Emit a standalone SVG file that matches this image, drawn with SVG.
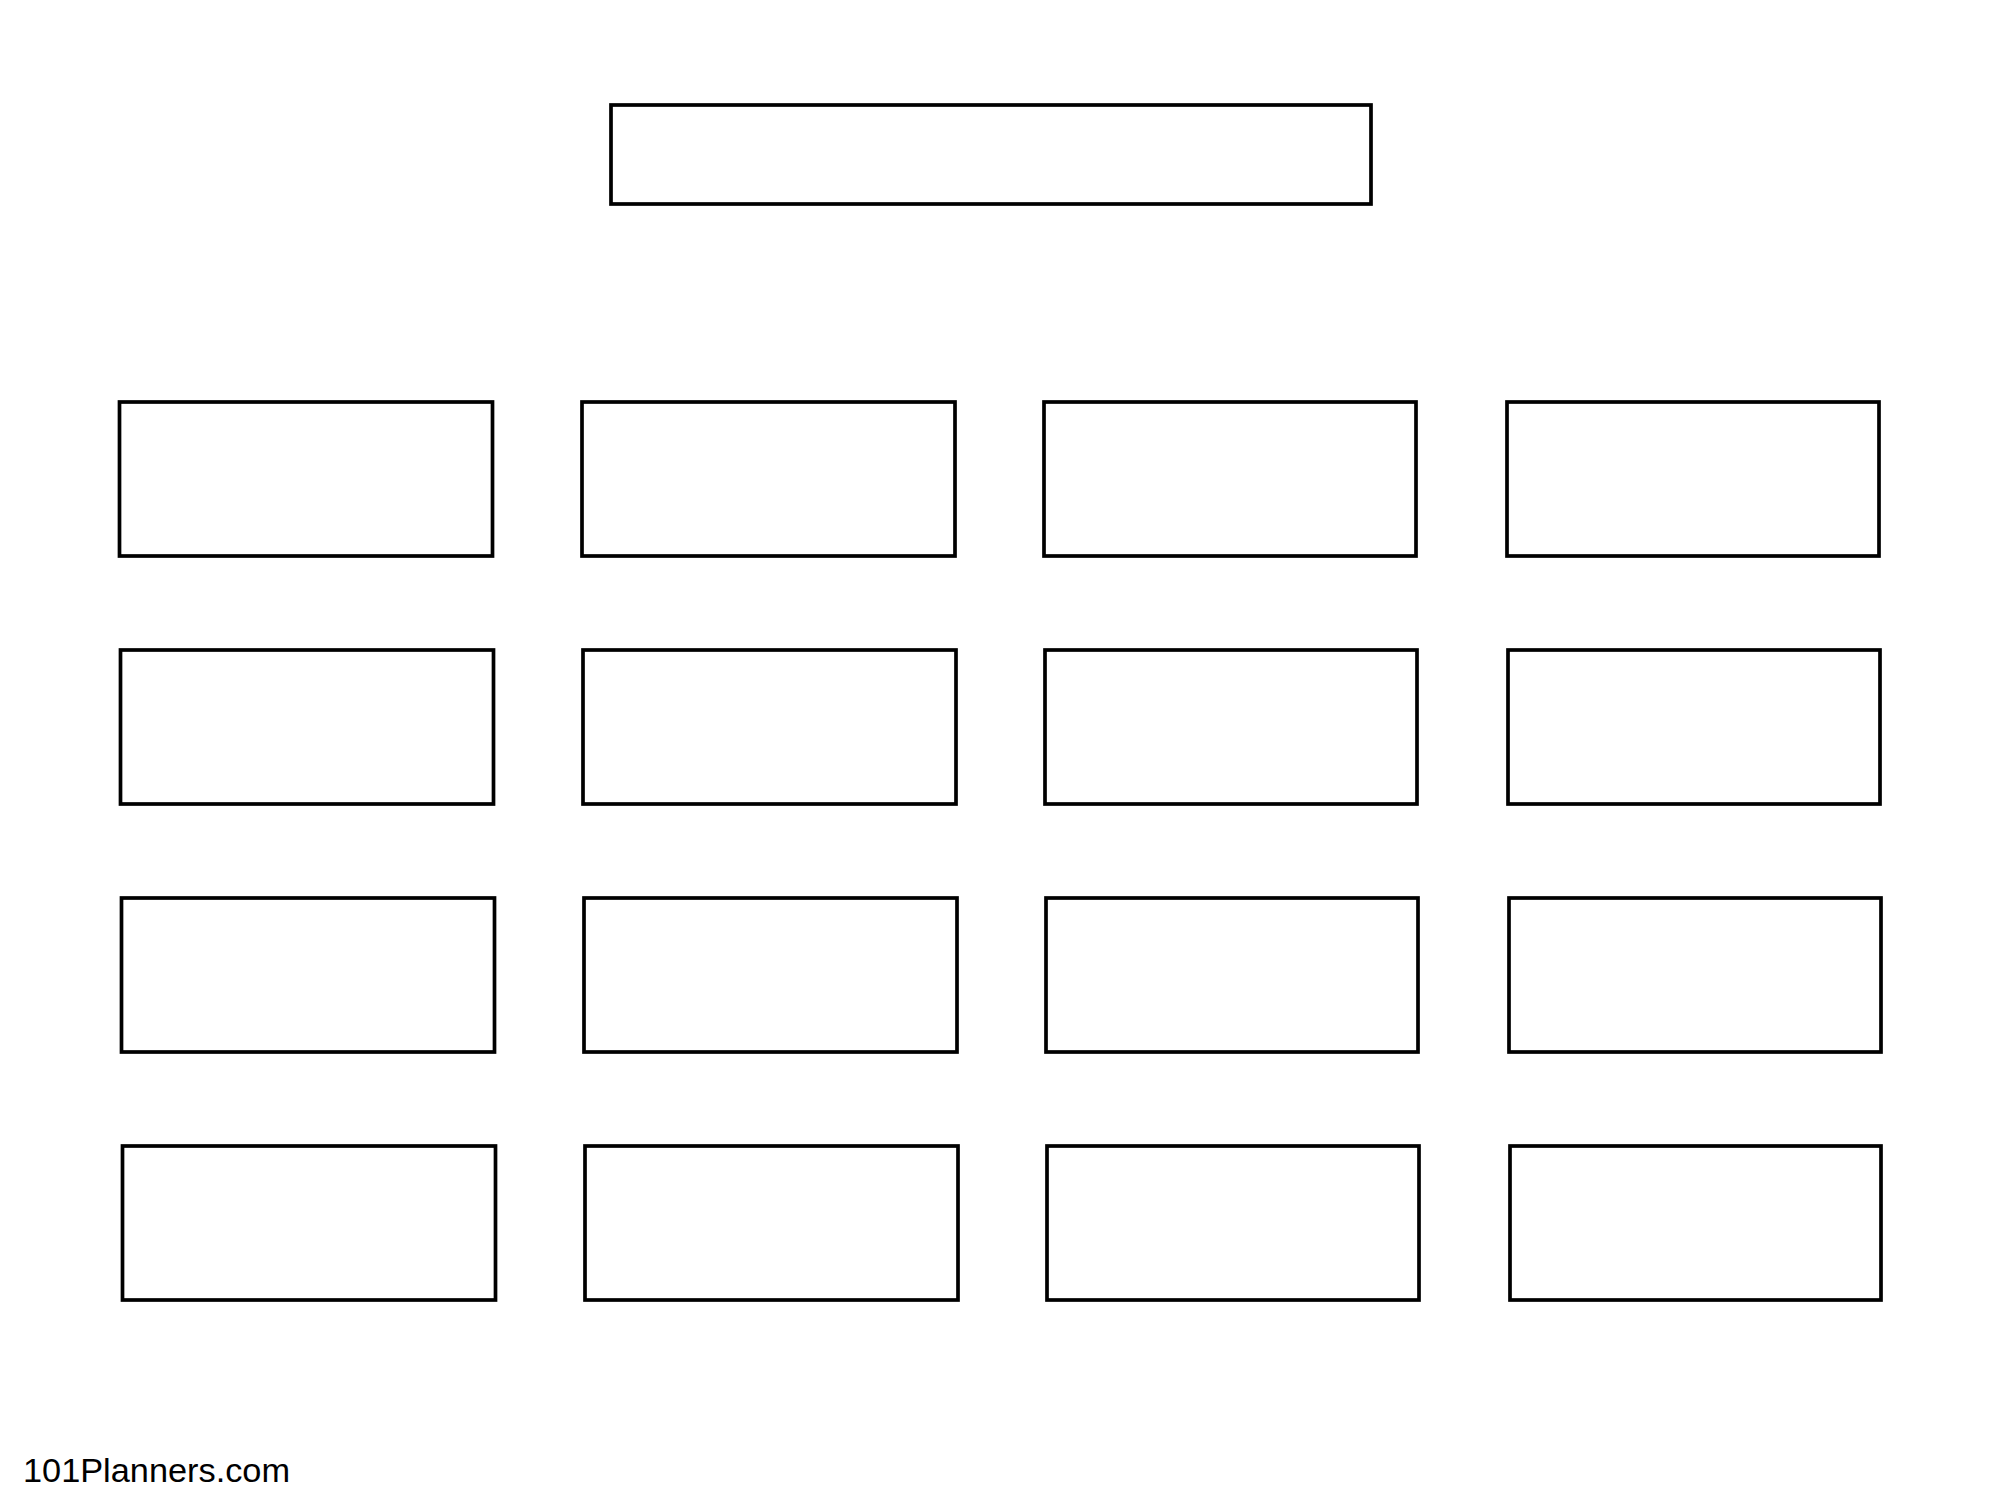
<svg xmlns="http://www.w3.org/2000/svg" width="2000" height="1500" viewBox="0 0 2000 1500">
<style>
.box{fill:#ffffff;stroke:#000000;stroke-width:3.7}
.foot{font-family:"Liberation Sans","DejaVu Sans",sans-serif;font-size:33px;fill:#000000}
</style>
<rect x="0" y="0" width="2000" height="1500" fill="#ffffff"/>
<g id="connectors"></g>
<g id="top"><rect class="box" x="611" y="105" width="760" height="99"/></g>
<g id="r1c1"><rect class="box" x="119.5" y="402" width="373" height="154"/></g>
<g id="r1c2"><rect class="box" x="582" y="402" width="373" height="154"/></g>
<g id="r1c3"><rect class="box" x="1044" y="402" width="372" height="154"/></g>
<g id="r1c4"><rect class="box" x="1507" y="402" width="372" height="154"/></g>
<g id="r2c1"><rect class="box" x="120.5" y="650" width="373" height="154"/></g>
<g id="r2c2"><rect class="box" x="583" y="650" width="373" height="154"/></g>
<g id="r2c3"><rect class="box" x="1045" y="650" width="372" height="154"/></g>
<g id="r2c4"><rect class="box" x="1508" y="650" width="372" height="154"/></g>
<g id="r3c1"><rect class="box" x="121.5" y="898" width="373" height="154"/></g>
<g id="r3c2"><rect class="box" x="584" y="898" width="373" height="154"/></g>
<g id="r3c3"><rect class="box" x="1046" y="898" width="372" height="154"/></g>
<g id="r3c4"><rect class="box" x="1509" y="898" width="372" height="154"/></g>
<g id="r4c1"><rect class="box" x="122.5" y="1146" width="373" height="154"/></g>
<g id="r4c2"><rect class="box" x="585" y="1146" width="373" height="154"/></g>
<g id="r4c3"><rect class="box" x="1047" y="1146" width="372" height="154"/></g>
<g id="r4c4"><rect class="box" x="1510" y="1146" width="371" height="154"/></g>
<g id="footer"><text class="foot" x="23" y="1482" textLength="267" lengthAdjust="spacingAndGlyphs">101Planners.com</text></g>
</svg>
